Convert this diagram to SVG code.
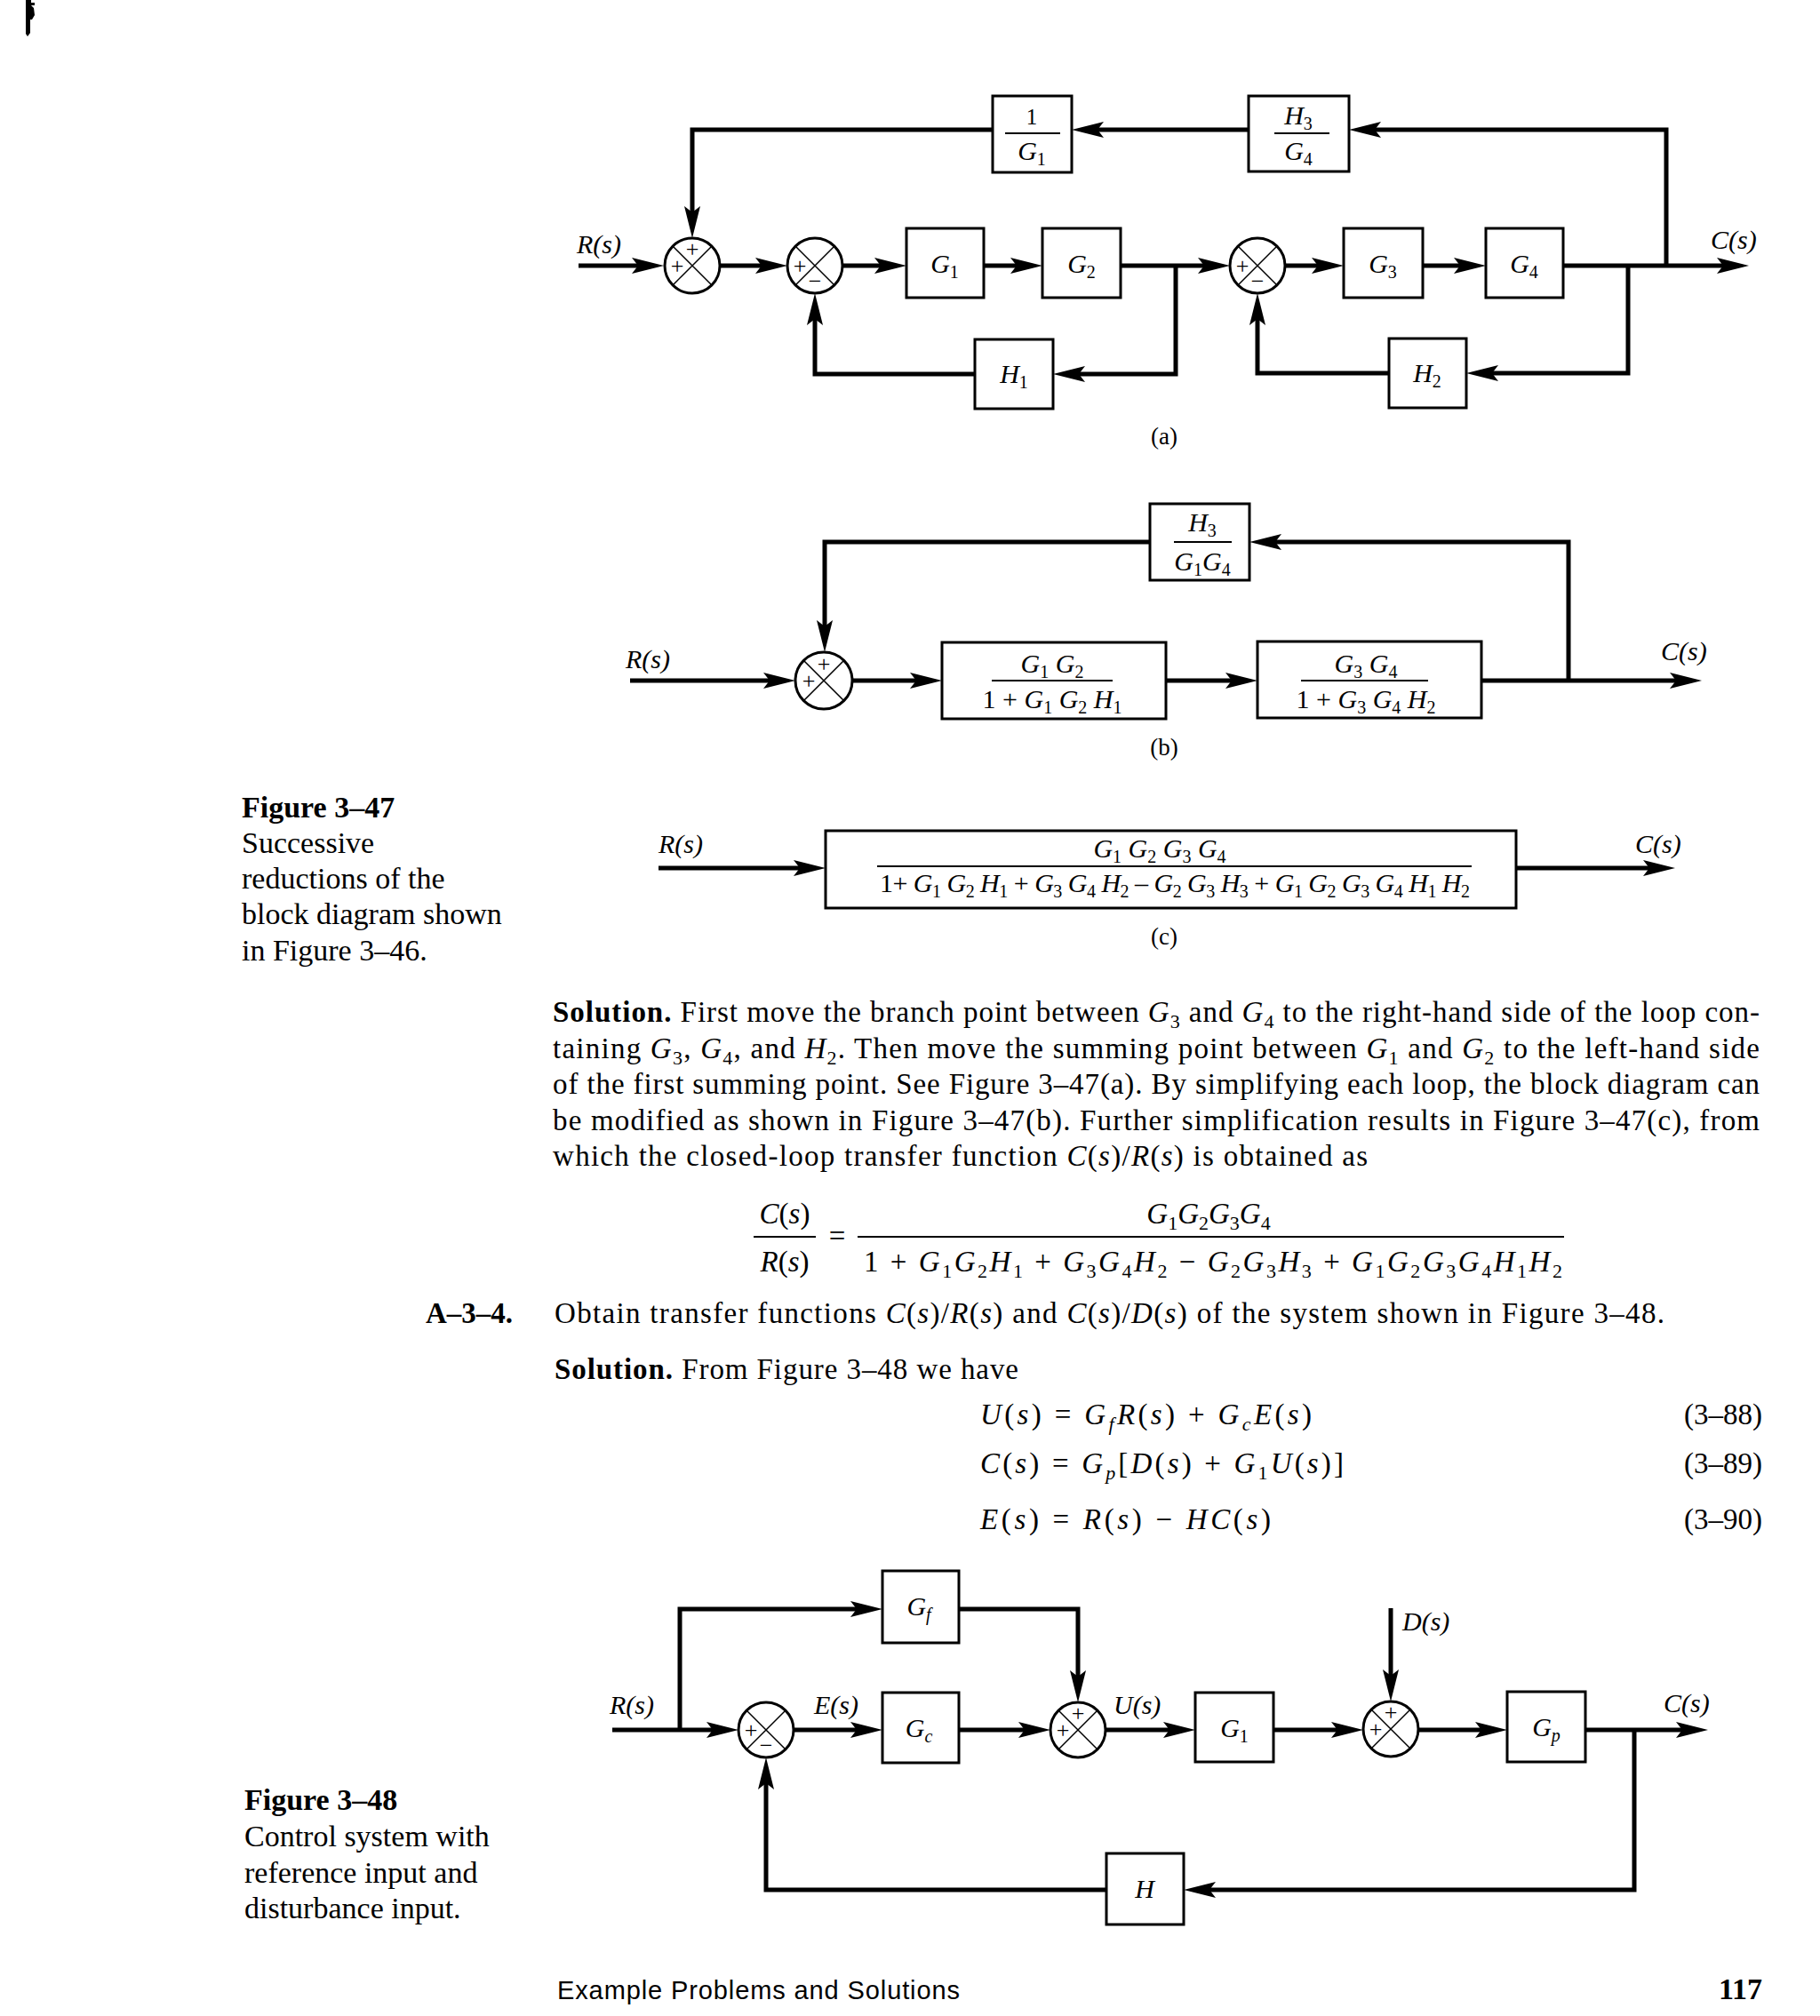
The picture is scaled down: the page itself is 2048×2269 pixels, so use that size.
<svg xmlns="http://www.w3.org/2000/svg" width="2048" height="2269" viewBox="0 0 2048 2269">
<style>
.ln{fill:none;stroke:#000;stroke-width:5;stroke-linejoin:miter}
.bx{fill:#fff;stroke:#000;stroke-width:3}
.sm{fill:#fff;stroke:#000;stroke-width:3}
.cx{stroke:#000;stroke-width:1.5}
.br{stroke:#000;stroke-width:2}
text{font-family:"Liberation Serif","Times New Roman",serif;fill:#000}
.lb{font-style:italic;font-size:30px}
.ls{font-style:normal;font-size:20px}
.li{font-style:italic;font-size:20px}
.sg{font-size:26px}
.bd{font-size:33px}
.cp{font-size:34px}
.m{font-style:italic}
.s{font-style:normal;font-size:22px}
.si{font-style:italic;font-size:22px}
.b{font-weight:bold}
.ft{font-family:"Liberation Sans",Arial,sans-serif;font-size:29px}
</style>
<defs>
<marker id="ah" viewBox="0 0 36 20" refX="16" refY="10" markerWidth="36" markerHeight="20" markerUnits="userSpaceOnUse" orient="auto"><path d="M0,1 L36,10 L0,19 L7,10 Z"/></marker>
</defs>
<path d="M29,0 H35 V3 H39 V6 H35 L38,9 L39,17 L36,22 H34 V37 L31,41 L29,38 Z"/>

<g id="connectors-a">
<path class="ln" d="M651,299 H727" marker-end="url(#ah)"/>
<path class="ln" d="M810,299 H866" marker-end="url(#ah)"/>
<path class="ln" d="M948,299 H1000" marker-end="url(#ah)"/>
<path class="ln" d="M1107,299 H1153" marker-end="url(#ah)"/>
<path class="ln" d="M1261,299 H1364" marker-end="url(#ah)"/>
<path class="ln" d="M1447,299 H1492" marker-end="url(#ah)"/>
<path class="ln" d="M1601,299 H1652" marker-end="url(#ah)"/>
<path class="ln" d="M1759,299 H1948" marker-end="url(#ah)"/>
<path class="ln" d="M1875,299 V146 H1538" marker-end="url(#ah)"/>
<path class="ln" d="M1405,146 H1226" marker-end="url(#ah)"/>
<path class="ln" d="M1117,146 H779 V248" marker-end="url(#ah)"/>
<path class="ln" d="M1323,299 V421 H1205" marker-end="url(#ah)"/>
<path class="ln" d="M1097,421 H917 V350" marker-end="url(#ah)"/>
<path class="ln" d="M1832,299 V420 H1670" marker-end="url(#ah)"/>
<path class="ln" d="M1563,420 H1415 V350" marker-end="url(#ah)"/>
</g>
<g id="sum1a"><circle class="sm" cx="779" cy="299" r="31"/><path class="cx" d="M757,277 L801,321 M801,277 L757,321"/><text class="sg" x="779" y="289" text-anchor="middle">+</text><text class="sg" x="762" y="308" text-anchor="middle">+</text></g>
<g id="sum2a"><circle class="sm" cx="917" cy="299" r="31"/><path class="cx" d="M895,277 L939,321 M939,277 L895,321"/><text class="sg" x="900" y="308" text-anchor="middle">+</text><text class="sg" x="917" y="325" text-anchor="middle">−</text></g>
<g id="sum3a"><circle class="sm" cx="1415" cy="299" r="31"/><path class="cx" d="M1393,277 L1437,321 M1437,277 L1393,321"/><text class="sg" x="1398" y="308" text-anchor="middle">+</text><text class="sg" x="1415" y="325" text-anchor="middle">−</text></g>
<g id="G1a"><rect class="bx" x="1020" y="257" width="87" height="78"/><text class="lb" x="1063" y="307" text-anchor="middle">G<tspan class="ls" dy="6">1</tspan></text></g>
<g id="G2a"><rect class="bx" x="1173" y="257" width="88" height="78"/><text class="lb" x="1217" y="307" text-anchor="middle">G<tspan class="ls" dy="6">2</tspan></text></g>
<g id="G3a"><rect class="bx" x="1512" y="257" width="89" height="78"/><text class="lb" x="1556" y="307" text-anchor="middle">G<tspan class="ls" dy="6">3</tspan></text></g>
<g id="G4a"><rect class="bx" x="1672" y="257" width="87" height="78"/><text class="lb" x="1715" y="307" text-anchor="middle">G<tspan class="ls" dy="6">4</tspan></text></g>
<g id="H1a"><rect class="bx" x="1097" y="382" width="88" height="78"/><text class="lb" x="1141" y="431" text-anchor="middle">H<tspan class="ls" dy="6">1</tspan></text></g>
<g id="H2a"><rect class="bx" x="1563" y="381" width="87" height="78"/><text class="lb" x="1606" y="430" text-anchor="middle">H<tspan class="ls" dy="6">2</tspan></text></g>
<g id="invG1a"><rect class="bx" x="1117" y="108" width="89" height="86"/><text x="1161" y="140" font-size="25" text-anchor="middle">1</text><line class="br" x1="1131" y1="150" x2="1193" y2="150"/><text class="lb" x="1161" y="180" font-size="28" text-anchor="middle">G<tspan class="ls" dy="6">1</tspan></text></g>
<g id="H3G4a"><rect class="bx" x="1405" y="108" width="113" height="85"/><text class="lb" x="1461" y="140" font-size="28" text-anchor="middle">H<tspan class="ls" dy="6">3</tspan></text><line class="br" x1="1434" y1="150" x2="1496" y2="150"/><text class="lb" x="1461" y="180" font-size="28" text-anchor="middle">G<tspan class="ls" dy="6">4</tspan></text></g>
<text class="lb" x="649" y="285" font-size="27">R(s)</text>
<text class="lb" x="1925" y="280" font-size="27">C(s)</text>
<text x="1310" y="500" font-size="27" text-anchor="middle">(a)</text>

<g id="connectors-b">
<path class="ln" d="M709,766 H875" marker-end="url(#ah)"/>
<path class="ln" d="M959,766 H1040" marker-end="url(#ah)"/>
<path class="ln" d="M1312,766 H1395" marker-end="url(#ah)"/>
<path class="ln" d="M1667,766 H1895" marker-end="url(#ah)"/>
<path class="ln" d="M1765,766 V610 H1426" marker-end="url(#ah)"/>
<path class="ln" d="M1294,610 H928 V714" marker-end="url(#ah)"/>
</g>
<g id="sumb"><circle class="sm" cx="927" cy="766" r="32"/><path class="cx" d="M904,743 L950,789 M950,743 L904,789"/><text class="sg" x="927" y="756" text-anchor="middle">+</text><text class="sg" x="910" y="775" text-anchor="middle">+</text></g>
<g id="B1b"><rect class="bx" x="1060" y="723" width="252" height="86"/><text class="lb" x="1184" y="757" font-size="28" text-anchor="middle">G<tspan class="ls" dy="6">1</tspan><tspan dy="-6"> G</tspan><tspan class="ls" dy="6">2</tspan></text><line class="br" x1="1116" y1="766" x2="1252" y2="766"/><text class="lb" x="1184" y="797" font-size="28" text-anchor="middle"><tspan font-style="normal">1 + </tspan>G<tspan class="ls" dy="6">1</tspan><tspan dy="-6"> G</tspan><tspan class="ls" dy="6">2</tspan><tspan dy="-6"> H</tspan><tspan class="ls" dy="6">1</tspan></text></g>
<g id="B2b"><rect class="bx" x="1415" y="722" width="252" height="86"/><text class="lb" x="1537" y="757" font-size="28" text-anchor="middle">G<tspan class="ls" dy="6">3</tspan><tspan dy="-6"> G</tspan><tspan class="ls" dy="6">4</tspan></text><line class="br" x1="1464" y1="766" x2="1607" y2="766"/><text class="lb" x="1537" y="797" font-size="28" text-anchor="middle"><tspan font-style="normal">1 + </tspan>G<tspan class="ls" dy="6">3</tspan><tspan dy="-6"> G</tspan><tspan class="ls" dy="6">4</tspan><tspan dy="-6"> H</tspan><tspan class="ls" dy="6">2</tspan></text></g>
<g id="H3b"><rect class="bx" x="1294" y="567" width="112" height="86"/><text class="lb" x="1353" y="598" font-size="28" text-anchor="middle">H<tspan class="ls" dy="6">3</tspan></text><line class="br" x1="1321" y1="610" x2="1386" y2="610"/><text class="lb" x="1353" y="642" font-size="28" text-anchor="middle">G<tspan class="ls" dy="6">1</tspan><tspan dy="-6">G</tspan><tspan class="ls" dy="6">4</tspan></text></g>
<text class="lb" x="704" y="752" font-size="27">R(s)</text>
<text class="lb" x="1869" y="743" font-size="27">C(s)</text>
<text x="1310" y="850" font-size="27" text-anchor="middle">(b)</text>

<g id="connectors-c">
<path class="ln" d="M741,977 H909" marker-end="url(#ah)"/>
<path class="ln" d="M1706,977 H1865" marker-end="url(#ah)"/>
</g>
<g id="Bc"><rect class="bx" x="929" y="935" width="777" height="87"/><text class="lb" x="1305" y="965" font-size="27" text-anchor="middle">G<tspan class="ls" dy="6">1</tspan><tspan dy="-6"> G</tspan><tspan class="ls" dy="6">2</tspan><tspan dy="-6"> G</tspan><tspan class="ls" dy="6">3</tspan><tspan dy="-6"> G</tspan><tspan class="ls" dy="6">4</tspan></text><line class="br" x1="987" y1="975" x2="1656" y2="975"/><text class="lb" x="990" y="1004" font-size="27" textLength="664" lengthAdjust="spacing"><tspan font-style="normal">1+ </tspan>G<tspan class="ls" dy="6">1</tspan><tspan dy="-6"> G</tspan><tspan class="ls" dy="6">2</tspan><tspan dy="-6"> H</tspan><tspan class="ls" dy="6">1</tspan><tspan dy="-6" font-style="normal"> + </tspan>G<tspan class="ls" dy="6">3</tspan><tspan dy="-6"> G</tspan><tspan class="ls" dy="6">4</tspan><tspan dy="-6"> H</tspan><tspan class="ls" dy="6">2</tspan><tspan dy="-6" font-style="normal"> – </tspan>G<tspan class="ls" dy="6">2</tspan><tspan dy="-6"> G</tspan><tspan class="ls" dy="6">3</tspan><tspan dy="-6"> H</tspan><tspan class="ls" dy="6">3</tspan><tspan dy="-6" font-style="normal"> + </tspan>G<tspan class="ls" dy="6">1</tspan><tspan dy="-6"> G</tspan><tspan class="ls" dy="6">2</tspan><tspan dy="-6"> G</tspan><tspan class="ls" dy="6">3</tspan><tspan dy="-6"> G</tspan><tspan class="ls" dy="6">4</tspan><tspan dy="-6"> H</tspan><tspan class="ls" dy="6">1</tspan><tspan dy="-6"> H</tspan><tspan class="ls" dy="6">2</tspan></text></g>
<text class="lb" x="741" y="960" font-size="27">R(s)</text>
<text class="lb" x="1840" y="960" font-size="27">C(s)</text>
<text x="1310" y="1063" font-size="27" text-anchor="middle">(c)</text>

<text class="cp b" x="272" y="920">Figure 3–47</text>
<text class="cp" x="272" y="960">Successive</text>
<text class="cp" x="272" y="1000">reductions of the</text>
<text class="cp" x="272" y="1040">block diagram shown</text>
<text class="cp" x="272" y="1081">in Figure 3–46.</text>

<text class="bd" x="622" y="1150" textLength="1358" lengthAdjust="spacing"><tspan class="b">Solution.</tspan> First move the branch point between <tspan class="m">G</tspan><tspan class="s" dy="7">3</tspan><tspan dy="-7"> and </tspan><tspan class="m">G</tspan><tspan class="s" dy="7">4</tspan><tspan dy="-7"> to the right-hand side of the loop con-</tspan></text>
<text class="bd" x="622" y="1191" textLength="1358" lengthAdjust="spacing">taining <tspan class="m">G</tspan><tspan class="s" dy="7">3</tspan><tspan dy="-7">, </tspan><tspan class="m">G</tspan><tspan class="s" dy="7">4</tspan><tspan dy="-7">, and </tspan><tspan class="m">H</tspan><tspan class="s" dy="7">2</tspan><tspan dy="-7">. Then move the summing point between </tspan><tspan class="m">G</tspan><tspan class="s" dy="7">1</tspan><tspan dy="-7"> and </tspan><tspan class="m">G</tspan><tspan class="s" dy="7">2</tspan><tspan dy="-7"> to the left-hand side</tspan></text>
<text class="bd" x="622" y="1231" textLength="1358" lengthAdjust="spacing">of the first summing point. See Figure 3–47(a). By simplifying each loop, the block diagram can</text>
<text class="bd" x="622" y="1272" textLength="1358" lengthAdjust="spacing">be modified as shown in Figure 3–47(b). Further simplification results in Figure 3–47(c), from</text>
<text class="bd" x="622" y="1312" textLength="917" lengthAdjust="spacing">which the closed-loop transfer function <tspan class="m">C</tspan>(<tspan class="m">s</tspan>)/<tspan class="m">R</tspan>(<tspan class="m">s</tspan>) is obtained as</text>

<text class="bd m" x="883" y="1377" text-anchor="middle">C<tspan font-style="normal">(</tspan>s<tspan font-style="normal">)</tspan></text>
<line class="br" x1="848" y1="1392" x2="918" y2="1392"/>
<text class="bd m" x="883" y="1431" text-anchor="middle">R<tspan font-style="normal">(</tspan>s<tspan font-style="normal">)</tspan></text>
<text class="bd" x="942" y="1402" text-anchor="middle">=</text>
<line class="br" x1="965" y1="1392" x2="1760" y2="1392"/>
<text class="bd m" x="1360" y="1377" text-anchor="middle">G<tspan class="s" dy="7">1</tspan><tspan dy="-7">G</tspan><tspan class="s" dy="7">2</tspan><tspan dy="-7">G</tspan><tspan class="s" dy="7">3</tspan><tspan dy="-7">G</tspan><tspan class="s" dy="7">4</tspan></text>
<text class="bd m" x="972" y="1431" textLength="786" lengthAdjust="spacing"><tspan font-style="normal">1 + </tspan>G<tspan class="s" dy="7">1</tspan><tspan dy="-7">G</tspan><tspan class="s" dy="7">2</tspan><tspan dy="-7">H</tspan><tspan class="s" dy="7">1</tspan><tspan dy="-7" font-style="normal"> + </tspan>G<tspan class="s" dy="7">3</tspan><tspan dy="-7">G</tspan><tspan class="s" dy="7">4</tspan><tspan dy="-7">H</tspan><tspan class="s" dy="7">2</tspan><tspan dy="-7" font-style="normal"> − </tspan>G<tspan class="s" dy="7">2</tspan><tspan dy="-7">G</tspan><tspan class="s" dy="7">3</tspan><tspan dy="-7">H</tspan><tspan class="s" dy="7">3</tspan><tspan dy="-7" font-style="normal"> + </tspan>G<tspan class="s" dy="7">1</tspan><tspan dy="-7">G</tspan><tspan class="s" dy="7">2</tspan><tspan dy="-7">G</tspan><tspan class="s" dy="7">3</tspan><tspan dy="-7">G</tspan><tspan class="s" dy="7">4</tspan><tspan dy="-7">H</tspan><tspan class="s" dy="7">1</tspan><tspan dy="-7">H</tspan><tspan class="s" dy="7">2</tspan></text>

<text class="bd b" x="479" y="1489">A–3–4.</text>
<text class="bd" x="624" y="1489" textLength="1249" lengthAdjust="spacing">Obtain transfer functions <tspan class="m">C</tspan>(<tspan class="m">s</tspan>)/<tspan class="m">R</tspan>(<tspan class="m">s</tspan>) and <tspan class="m">C</tspan>(<tspan class="m">s</tspan>)/<tspan class="m">D</tspan>(<tspan class="m">s</tspan>) of the system shown in Figure 3–48.</text>
<text class="bd" x="624" y="1552" textLength="522" lengthAdjust="spacing"><tspan class="b">Solution.</tspan> From Figure 3–48 we have</text>
<text class="bd m" x="1103" y="1603" textLength="373" lengthAdjust="spacing">U<tspan font-style="normal">(</tspan>s<tspan font-style="normal">) = </tspan>G<tspan class="si" dy="7">f</tspan><tspan dy="-7">R</tspan><tspan font-style="normal">(</tspan>s<tspan font-style="normal">) + </tspan>G<tspan class="si" dy="7">c</tspan><tspan dy="-7">E</tspan><tspan font-style="normal">(</tspan>s<tspan font-style="normal">)</tspan></text>
<text class="bd m" x="1103" y="1658" textLength="409" lengthAdjust="spacing">C<tspan font-style="normal">(</tspan>s<tspan font-style="normal">) = </tspan>G<tspan class="si" dy="7">p</tspan><tspan dy="-7" font-style="normal">[</tspan>D<tspan font-style="normal">(</tspan>s<tspan font-style="normal">) + </tspan>G<tspan class="s" dy="7">1</tspan><tspan dy="-7">U</tspan><tspan font-style="normal">(</tspan>s<tspan font-style="normal">)]</tspan></text>
<text class="bd m" x="1103" y="1721" textLength="327" lengthAdjust="spacing">E<tspan font-style="normal">(</tspan>s<tspan font-style="normal">) = </tspan>R<tspan font-style="normal">(</tspan>s<tspan font-style="normal">) − </tspan>HC<tspan font-style="normal">(</tspan>s<tspan font-style="normal">)</tspan></text>
<text class="bd" x="1983" y="1603" text-anchor="end">(3–88)</text>
<text class="bd" x="1983" y="1658" text-anchor="end">(3–89)</text>
<text class="bd" x="1983" y="1721" text-anchor="end">(3–90)</text>

<g id="connectors-48">
<path class="ln" d="M689,1947 H811" marker-end="url(#ah)"/>
<path class="ln" d="M765,1947 V1811 H973" marker-end="url(#ah)"/>
<path class="ln" d="M1079,1811 H1213 V1896" marker-end="url(#ah)"/>
<path class="ln" d="M893,1947 H973" marker-end="url(#ah)"/>
<path class="ln" d="M1079,1947 H1162" marker-end="url(#ah)"/>
<path class="ln" d="M1244,1947 H1325" marker-end="url(#ah)"/>
<path class="ln" d="M1433,1947 H1514" marker-end="url(#ah)"/>
<path class="ln" d="M1565,1810 V1895" marker-end="url(#ah)"/>
<path class="ln" d="M1596,1947 H1676" marker-end="url(#ah)"/>
<path class="ln" d="M1784,1947 H1902" marker-end="url(#ah)"/>
<path class="ln" d="M1839,1947 V2127 H1352" marker-end="url(#ah)"/>
<path class="ln" d="M1245,2127 H862 V1998" marker-end="url(#ah)"/>
</g>
<g id="sumA"><circle class="sm" cx="862" cy="1947" r="31"/><path class="cx" d="M840,1925 L884,1969 M884,1925 L840,1969"/><text class="sg" x="845" y="1956" text-anchor="middle">+</text><text class="sg" x="862" y="1973" text-anchor="middle">−</text></g>
<g id="sumB"><circle class="sm" cx="1213" cy="1947" r="31"/><path class="cx" d="M1191,1925 L1235,1969 M1235,1925 L1191,1969"/><text class="sg" x="1213" y="1937" text-anchor="middle">+</text><text class="sg" x="1196" y="1956" text-anchor="middle">+</text></g>
<g id="sumC"><circle class="sm" cx="1565" cy="1946" r="31"/><path class="cx" d="M1543,1924 L1587,1968 M1587,1924 L1543,1968"/><text class="sg" x="1565" y="1936" text-anchor="middle">+</text><text class="sg" x="1548" y="1955" text-anchor="middle">+</text></g>
<g id="Gf"><rect class="bx" x="993" y="1768" width="86" height="81"/><text class="lb" x="1034" y="1818" text-anchor="middle">G<tspan class="li" dy="6">f</tspan></text></g>
<g id="Gc"><rect class="bx" x="993" y="1905" width="86" height="79"/><text class="lb" x="1034" y="1955" text-anchor="middle">G<tspan class="li" dy="6">c</tspan></text></g>
<g id="G1"><rect class="bx" x="1345" y="1905" width="88" height="78"/><text class="lb" x="1389" y="1955" text-anchor="middle">G<tspan class="ls" dy="6">1</tspan></text></g>
<g id="Gp"><rect class="bx" x="1696" y="1904" width="88" height="79"/><text class="lb" x="1740" y="1954" text-anchor="middle">G<tspan class="li" dy="6">p</tspan></text></g>
<g id="H"><rect class="bx" x="1245" y="2086" width="87" height="80"/><text class="lb" x="1288" y="2136" text-anchor="middle">H</text></g>
<text class="lb" x="686" y="1929" font-size="27">R(s)</text>
<text class="lb" x="916" y="1929" font-size="27">E(s)</text>
<text class="lb" x="1253" y="1929" font-size="27">U(s)</text>
<text class="lb" x="1578" y="1835" font-size="27">D(s)</text>
<text class="lb" x="1872" y="1927" font-size="27">C(s)</text>

<text class="cp b" x="275" y="2037">Figure 3–48</text>
<text class="cp" x="275" y="2078">Control system with</text>
<text class="cp" x="275" y="2119">reference input and</text>
<text class="cp" x="275" y="2159">disturbance input.</text>

<text class="ft" x="627" y="2250" textLength="453" lengthAdjust="spacing">Example Problems and Solutions</text>
<text class="b" x="1983" y="2250" font-size="34" text-anchor="end">117</text>
</svg>
